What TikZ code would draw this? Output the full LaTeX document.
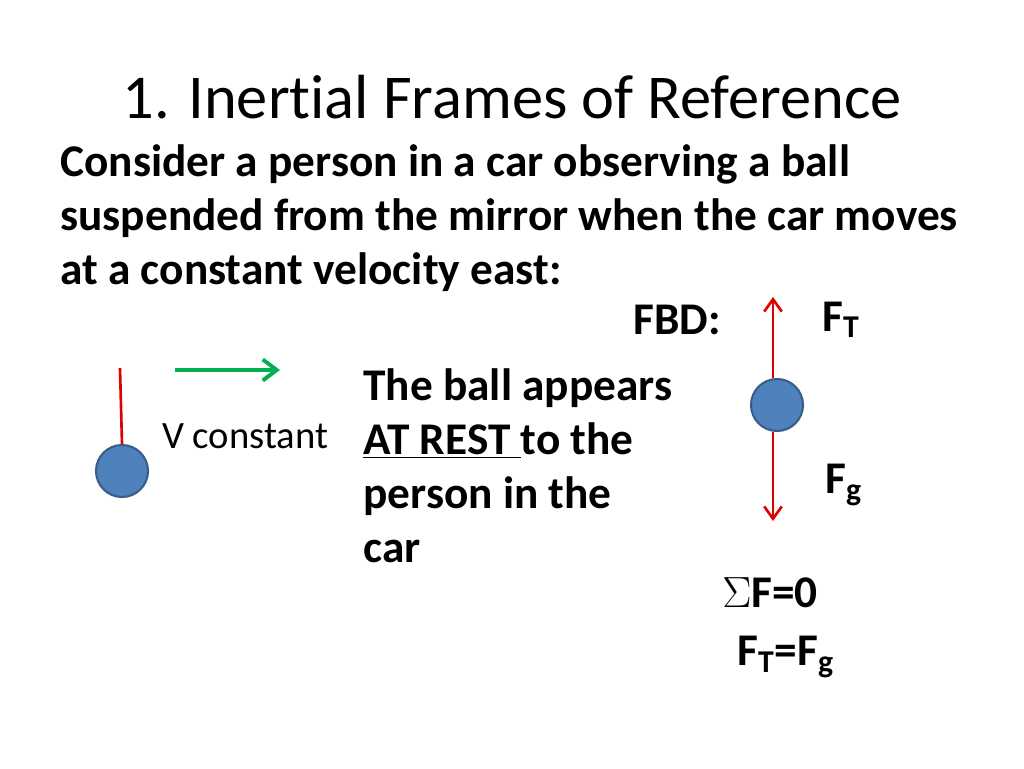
\documentclass[tikz,border=0pt]{standalone}
\usepackage{fontspec}
\setmainfont{Carlito}[Ligatures=NoCommon]
\usetikzlibrary{positioning,arrows.meta}
\definecolor{ballblue}{HTML}{4F81BD}
\definecolor{balledge}{HTML}{385D8A}
\definecolor{forcered}{HTML}{E00000}
\definecolor{velgreen}{HTML}{00B050}
\begin{document}
\begin{tikzpicture}[x=0.02cm,y=-0.02cm]
\tikzset{ball/.style={circle,draw=balledge,fill=ballblue,line width=1.2pt,minimum size=1.04cm,inner sep=0pt},
  bodytext/.style={font=\fontsize{25.8}{30.6}\selectfont\bfseries,align=left,anchor=west,inner sep=0pt},
  force/.style={draw=forcered,line width=1.5pt,-{Straight Barb[length=7pt,width=10pt]}}}
\useasboundingbox (0,0) rectangle (1024,768);
\node[font=\fontsize{35.5}{40}\selectfont] (title) at (512,97) {1. Inertial Frames of Reference};
\node[bodytext,anchor=base west] (intro) at (60,284) {Consider a person in a car observing a ball\\suspended from the mirror when the car moves\\at a constant velocity east:};

% car view
\node[ball] (lball) at (122,471) {};
\coordinate (mirror) at (120,368);
\draw[forcered,line width=1.5pt] (mirror) -- (lball.north);
\coordinate (vstart) at (175,370);
\coordinate (vend) at (280,370);
\draw[velgreen,line width=2.2pt,-{Straight Barb[length=8pt,width=12pt]}] (vstart) -- (vend);
\node[font=\fontsize{22}{24}\selectfont] (vlabel) at (245,436) {V constant};
\node[bodytext,anchor=base west] (rest) at (363,562) {The ball appears\\\underline{AT REST }to the\\person in the\\car};

% FBD
\node[bodytext] (fbd) at (633,320) {FBD:};
\node[ball] (rball) at (777,405) {};
\coordinate (ftip) at (773,297);
\coordinate (gtip) at (773,521);
\draw[force] (rball.north -| ftip) -- (ftip);
\draw[force] (rball.south -| gtip) -- (gtip);
\node[bodytext] (ft) at (822,320) {F\textsubscript{T}};
\node[bodytext] (fg) at (825,485) {F\textsubscript{g}};
\node[bodytext] (sum) at (722,593) {$\Sigma$F=0};
\node[bodytext] (eq) at (737,657) {F\textsubscript{T}=F\textsubscript{g}};
\end{tikzpicture}
\end{document}
